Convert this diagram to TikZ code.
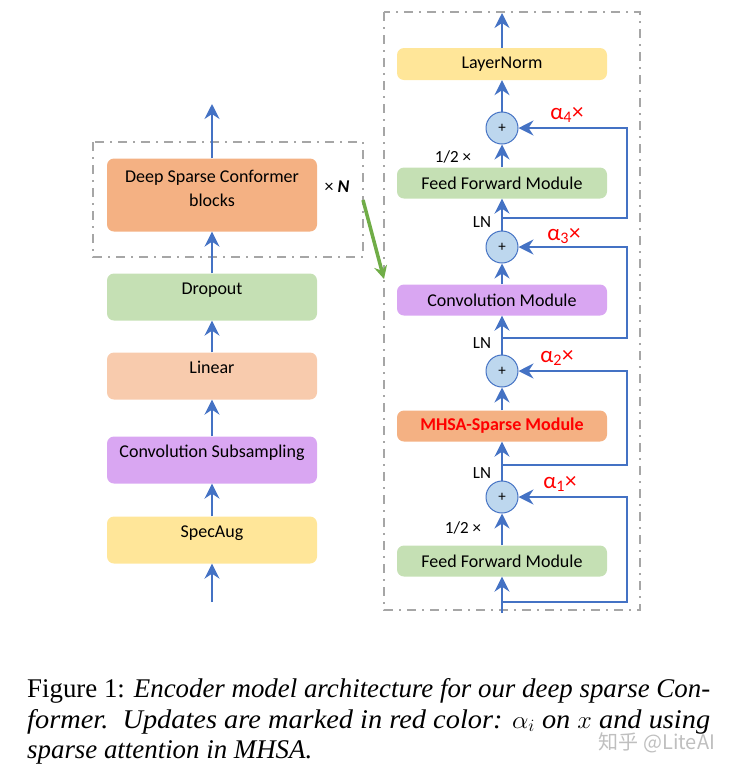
\documentclass[tikz,border=0pt]{standalone}
\usepackage{fontspec}
\usepackage{graphicx}
\setmainfont{Carlito}
\newfontfamily\capfont{Liberation Serif}
\newfontfamily\cjkfont{Noto Sans CJK SC}
\usepackage{tikz}
\usetikzlibrary{arrows.meta,positioning}

\definecolor{flowblue}{HTML}{4472C4}
\definecolor{sumblue}{HTML}{BDD7EE}
\definecolor{yellowbox}{HTML}{FFE699}
\definecolor{greenbox}{HTML}{C5E0B4}
\definecolor{purplebox}{HTML}{D9A6F2}
\definecolor{peachbox}{HTML}{F8CBAD}
\definecolor{orangebox}{HTML}{F4B183}
\definecolor{alphared}{HTML}{FF0000}
\definecolor{framegray}{HTML}{A6A6A6}
\definecolor{nextgreen}{HTML}{70AD47}
\definecolor{markgray}{HTML}{BFBFBF}

\newcommand\capstyle{\capfont\fontsize{27}{30}\selectfont}
\newlength\capw

\begin{document}
\settowidth\capw{\capstyle Figure 1: \textit{Encoder model architecture for our deep sparse Con-}}
\pgfmathsetmacro\capfac{683/\capw}
\begin{tikzpicture}[x=1pt,y=-1pt,
  blk/.style={rounded corners=7pt, minimum width=210pt, align=center, inner sep=0pt,
    font=\fontsize{18}{24}\selectfont},
  tall/.style={blk, minimum height=47pt, text height=13pt, text depth=18pt},
  flat/.style={blk, minimum height=31pt},
  sum/.style={circle, draw=flowblue, line width=1pt, fill=sumblue, minimum size=32pt,
    inner sep=0pt, font=\fontsize{15}{15}\selectfont},
  flow/.style={-{Stealth[length=15pt,width=15pt,inset=5pt]}, color=flowblue, line width=1.5pt},
  tag/.style={font=\fontsize{17}{17}\selectfont},
  weight/.style={text=alphared, font=\fontsize{23}{23}\selectfont},
  frame/.style={draw=framegray, line width=2pt, dash pattern=on 9pt off 6pt on 2pt off 6pt}]
  \useasboundingbox (0,0) rectangle (741,772);

  % encoder stack
  \node[tall, fill=yellowbox] (spec) at (212,540) {SpecAug};
  \node[tall, fill=purplebox] (csub) at (212,460) {Convolution Subsampling};
  \node[tall, fill=peachbox] (lin) at (212,376) {Linear};
  \node[tall, fill=greenbox] (drop) at (212,297) {Dropout};
  \node[blk, minimum height=73pt, text depth=14pt, fill=orangebox] (dsc) at (212,195) {Deep Sparse Conformer\\blocks};
  \node[tag, font=\fontsize{18}{18}\selectfont] (xn) at (337,187) {× \textbf{\textit{N}}};
  \coordinate (inL) at (212,602);
  \coordinate (outL) at (212,104);
  \draw[frame] (93,142) rectangle (363,257);

  \path[flow]
  (inL) edge (spec)
  (spec) edge (csub)
  (csub) edge (lin)
  (lin) edge (drop)
  (drop) edge (dsc)
  (dsc) edge (outL);

  % one conformer block
  \node[flat, fill=greenbox] (ffa) at (502,561) {Feed Forward Module};
  \node[sum] (p1) at (502,497) {+};
  \node[flat, fill=orangebox, text=alphared, font=\bfseries\fontsize{18}{24}\selectfont] (mhsa) at (502,426) {MHSA-Sparse Module};
  \node[sum] (p2) at (502,371) {+};
  \node[flat, fill=purplebox] (conv) at (502,300) {Convolution Module};
  \node[sum] (p3) at (502,247) {+};
  \node[flat, fill=greenbox] (ffb) at (502,183) {Feed Forward Module};
  \node[sum] (p4) at (502,128) {+};
  \node[flat, fill=yellowbox, minimum height=32pt] (lnorm) at (502,64) {LayerNorm};
  \coordinate (inR) at (502,613);
  \coordinate (outR) at (502,13);
  \coordinate (b1) at (502,602);
  \coordinate (b2) at (502,465);
  \coordinate (b3) at (502,338);
  \coordinate (b4) at (502,218);
  \draw[frame] (384,12) rectangle (640,610);

  \path[flow]
  (inR) edge (ffa)
  (ffa) edge (p1)
  (p1) edge (mhsa)
  (mhsa) edge (p2)
  (p2) edge (conv)
  (conv) edge (p3)
  (p3) edge (ffb)
  (ffb) edge (p4)
  (p4) edge (lnorm)
  (lnorm) edge (outR);

  % residual paths
  \draw[flow] (b1) -- ++(125,0) |- (p1.east);
  \draw[flow] (b2) -- ++(125,0) |- (p2.east);
  \draw[flow] (b3) -- ++(125,0) |- (p3.east);
  \draw[flow] (b4) -- ++(125,0) |- (p4.east);

  \node[tag] (halfa) at (463,528) {1/2 ×};
  \node[tag] (halfb) at (453,157) {1/2 ×};
  \node[tag] (lna) at (482,473) {LN};
  \node[tag] (lnb) at (482,343) {LN};
  \node[tag] (lnc) at (482,222) {LN};
  \node[weight] (wa) at (560,484) {α\textsubscript{1}×};
  \node[weight] (wb) at (557,358) {α\textsubscript{2}×};
  \node[weight] (wc) at (564,236) {α\textsubscript{3}×};
  \node[weight] (wd) at (567,115) {α\textsubscript{4}×};

  \coordinate (ga) at (363,200);
  \coordinate (gb) at (384,279);
  \draw[-{Stealth[length=13pt,width=13pt]}, nextgreen, line width=3.5pt] (ga) -- (gb);

  % caption
  \node[anchor=base west, inner sep=0pt] (capa) at (27,697)
    {\resizebox{683pt}{\height}{\capstyle Figure 1: \textit{Encoder model architecture for our deep sparse Con-}}};
  \node[anchor=base west, inner sep=0pt] (capb) at (27,728)
    {\resizebox{683pt}{\height}{\capstyle \textit{former.\ \ Updates are marked in red color:} $\alpha_i$ \textit{on} $x$ \textit{and using}}};
  \node[anchor=base west, inner sep=0pt] (capc) at (27,758)
    {\scalebox{\capfac}[1]{\capstyle \textit{sparse attention in MHSA.}}};
  \node[text=markgray, font=\cjkfont\fontsize{20}{20}\selectfont] (mark) at (657,743) {知乎 @LiteAI};
\end{tikzpicture}
\end{document}
